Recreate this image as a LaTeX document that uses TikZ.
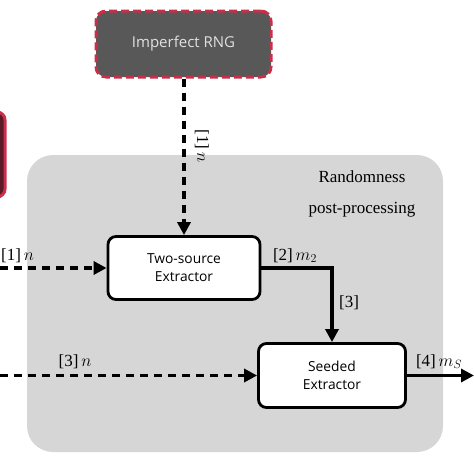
\documentclass[tikz,border=0pt]{standalone}
\usepackage{fontspec}
\setmainfont{Liberation Serif}
\newfontfamily\boxfont{Open Sans}
\usetikzlibrary{arrows.meta}
\definecolor{crim}{HTML}{C8304A}
\definecolor{rngfill}{HTML}{585858}
\definecolor{panel}{HTML}{D6D6D6}
\definecolor{maroon}{HTML}{5A1A28}
\tikzset{
  procbox/.style={draw=black, line width=2.8pt, fill=white, rounded corners=8pt, font=\boxfont\fontsize{13.8}{18}\selectfont, align=center, inner sep=0pt},
  dashline/.style={line width=3.4pt, dash pattern=on 8pt off 6pt, -{Triangle[length=13pt,width=13pt]}},
  solidline/.style={line width=3.6pt, -{Triangle[length=13pt,width=13pt]}},
  lbl/.style={font=\fontsize{17}{19}\selectfont, inner sep=1pt}
}
\begin{document}
\begin{tikzpicture}[x=1pt,y=-1pt]
\useasboundingbox (0,0) rectangle (474,474);
% background panel
\fill[panel, rounded corners=26pt] (27,155) rectangle (443,452);
% left partial crimson box
\draw[crim, fill=maroon, line width=3pt, rounded corners=8pt] (-60,112) rectangle (5,197);
% Imperfect RNG
\node[draw=crim, fill=rngfill, line width=3pt, dash pattern=on 8pt off 4pt, rounded corners=10pt, minimum width=175pt, minimum height=66pt, text=white!88!black, font=\boxfont\fontsize{15}{18}\selectfont] (rng) at (183.5,44) {Imperfect RNG};
% extractors
\node[procbox, minimum width=152pt, minimum height=63pt] (two) at (184,268) {Two-source\\Extractor};
\node[procbox, minimum width=147pt, minimum height=64pt] (seed) at (332,375.5) {Seeded\\Extractor};
% panel title
\node[font=\fontsize{17}{19}\selectfont] (t1) at (362,177) {Randomness};
\node[font=\fontsize{17}{19}\selectfont] (t2) at (362,210) {post-processing};
% inputs
\coordinate (inA) at (0,268);
\coordinate (inB) at (0,375.5);
\coordinate (outS) at (474,375.5);
\coordinate (bend) at (332,268);
\draw[dashline] (rng.south -| two.north) -- (two.north);
\node[lbl, rotate=-90] (l1) at (202,146) {[1]\,$n$};
\draw[dashline] (inA) -- (two.west);
\node[lbl, anchor=base west] (l1b) at (0,260) {[1]\,$n$};
\draw[solidline] (two.east) -- (bend) -- (seed.north);
\node[lbl, anchor=base] (l2) at (295,260) {[2]\,$m_2$};
\node[lbl] (l3) at (349,303) {[3]};
\draw[dashline] (inB) -- (seed.west);
\node[lbl, anchor=base] (l3b) at (75,366) {[3]\,$n$};
\draw[solidline] (seed.east) -- (outS);
\node[lbl, anchor=base] (l4) at (439,366) {[4]\,$m_S$};
\end{tikzpicture}
\end{document}
